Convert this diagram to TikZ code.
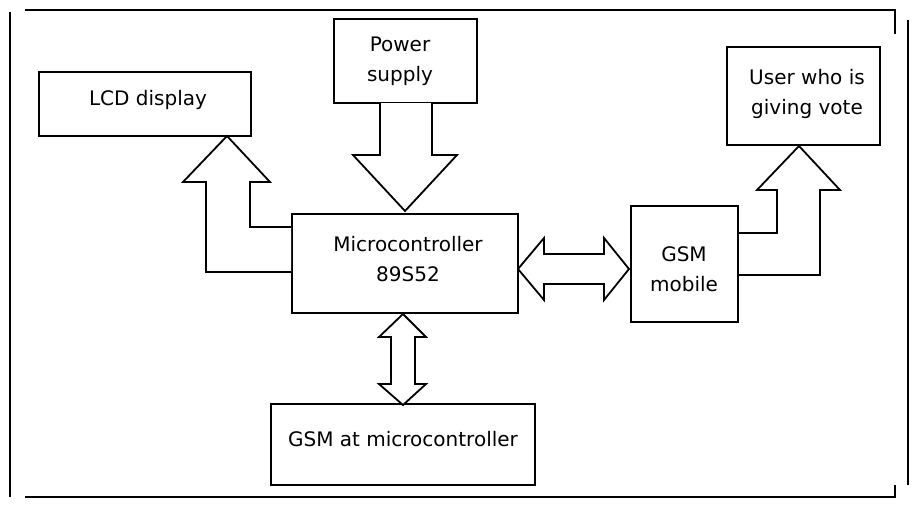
\documentclass[tikz,border=0pt]{standalone}
\usepackage{fontspec}
\setmainfont{DejaVu Sans}
\begin{document}
\begin{tikzpicture}[x=1pt,y=-1pt,line width=2pt,
  box/.style={draw,line width=2pt,inner sep=0pt,align=center,font=\fontsize{20}{30}\selectfont},
  blk/.style={draw,line width=1.8pt,line join=miter,fill=white}]
\useasboundingbox (0,0) rectangle (917,506);
\fill[white] (0,0) rectangle (917,506);
\draw[line width=1.5pt] (10,12) -- (10,497);
\draw[line width=1.5pt] (25,10) -- (895,10) -- (895,34);
\draw[line width=1.5pt] (25,497) -- (895,497) -- (895,485);
\draw[line width=1.2pt] (908,20) -- (908,485);
% boxes
\node[box,minimum width=212,minimum height=64] (lcd) at (145,104) {};
\node[font=\fontsize{20}{30}\selectfont] at (148,100) {LCD display};
\node[box,minimum width=143,minimum height=84] (ps) at (405.5,61) {};
\node[font=\fontsize{20}{30}\selectfont,align=center] at (400,61) {Power\\supply};
\node[box,minimum width=226,minimum height=99] (mc) at (405,263.5) {};
\node[font=\fontsize{20}{30}\selectfont,align=center] at (408,259) {Microcontroller\\89S52};
\node[box,minimum width=107,minimum height=116] (gm) at (684.5,264) {};
\node[font=\fontsize{20}{30}\selectfont,align=center] at (684,269) {GSM\\mobile};
\node[box,minimum width=153,minimum height=98] (us) at (803.5,96) {};
\node[font=\fontsize{20}{30}\selectfont,align=center] at (807,94) {User who is\\giving vote};
\node[box,minimum width=264,minimum height=81] (ga) at (403,444.5) {};
\node[font=\fontsize{20}{30}\selectfont] at (403,439) {GSM at microcontroller};
% power arrow
\draw[blk] (380,103) -- (380,155) -- (353,155) -- (405,211) -- (457,155) -- (432,155) -- (432,103);
% LCD arrow
\draw[blk] (mc.west|-0,272) -- (206,272) -- (206,182) -- (183,182) -- (227,136) -- (270,182) -- (250,182) -- (250,227) -- (mc.west|-0,227);
% user arrow
\draw[blk] (gm.east|-0,233) -- (777,233) -- (777,190) -- (757,190) -- (799,146) -- (840,190) -- (820,190) -- (820,275) -- (gm.east|-0,275);
% horizontal double arrow
\draw[blk] (518,269) -- (544,238) -- (544,254) -- (604,254) -- (604,238) -- (629,269) -- (604,300) -- (604,284) -- (544,284) -- (544,300) -- cycle;
% vertical double arrow
\draw[blk] (403,314) -- (426,337) -- (415,337) -- (415,384) -- (426,384) -- (403,405) -- (379,384) -- (391,384) -- (391,337) -- (379,337) -- cycle;
\end{tikzpicture}
\end{document}
